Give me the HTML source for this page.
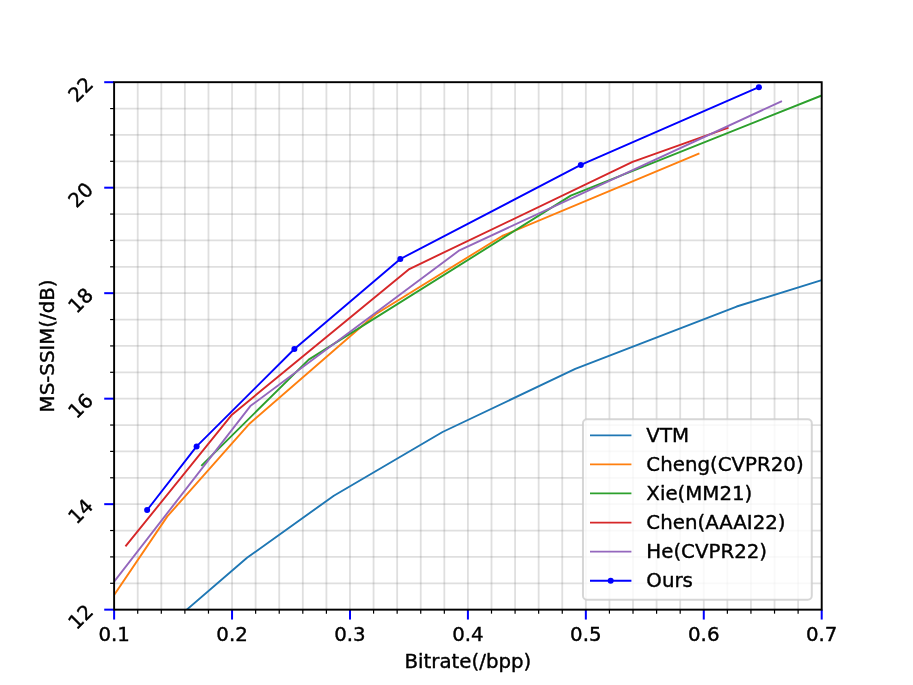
<!DOCTYPE html>
<html lang="en"><head><meta charset="utf-8"><title>MS-SSIM rate-distortion</title>
<style>html,body{margin:0;padding:0;background:#fff}svg{display:block}text{font-family:"DejaVu Sans","Liberation Sans",sans-serif;font-size:19.8px;fill:#000;stroke:#000;stroke-width:0.4px;stroke-linejoin:round}</style></head><body>
<svg width="913" height="685" viewBox="0 0 913 685">
<rect width="913" height="685" fill="#fff"/>
<defs><clipPath id="c"><rect x="114.12" y="82.2" width="707.58" height="527.45"/></clipPath></defs>
<g stroke="#808080" stroke-opacity="0.25" stroke-width="1.8" fill="none">
<path d="M114.12 609.65V82.2"/>
<path d="M137.71 609.65V82.2"/>
<path d="M161.3 609.65V82.2"/>
<path d="M184.88 609.65V82.2"/>
<path d="M208.47 609.65V82.2"/>
<path d="M232.05 609.65V82.2"/>
<path d="M255.64 609.65V82.2"/>
<path d="M279.23 609.65V82.2"/>
<path d="M302.81 609.65V82.2"/>
<path d="M326.4 609.65V82.2"/>
<path d="M349.98 609.65V82.2"/>
<path d="M373.57 609.65V82.2"/>
<path d="M397.15 609.65V82.2"/>
<path d="M420.74 609.65V82.2"/>
<path d="M444.33 609.65V82.2"/>
<path d="M467.91 609.65V82.2"/>
<path d="M491.5 609.65V82.2"/>
<path d="M515.08 609.65V82.2"/>
<path d="M538.67 609.65V82.2"/>
<path d="M562.26 609.65V82.2"/>
<path d="M585.84 609.65V82.2"/>
<path d="M609.43 609.65V82.2"/>
<path d="M633.01 609.65V82.2"/>
<path d="M656.6 609.65V82.2"/>
<path d="M680.19 609.65V82.2"/>
<path d="M703.77 609.65V82.2"/>
<path d="M727.36 609.65V82.2"/>
<path d="M750.94 609.65V82.2"/>
<path d="M774.53 609.65V82.2"/>
<path d="M798.11 609.65V82.2"/>
<path d="M821.7 609.65V82.2"/>
<path d="M114.12 609.65H821.7"/>
<path d="M114.12 583.28H821.7"/>
<path d="M114.12 556.9H821.7"/>
<path d="M114.12 530.53H821.7"/>
<path d="M114.12 504.16H821.7"/>
<path d="M114.12 477.79H821.7"/>
<path d="M114.12 451.41H821.7"/>
<path d="M114.12 425.04H821.7"/>
<path d="M114.12 398.67H821.7"/>
<path d="M114.12 372.3H821.7"/>
<path d="M114.12 345.93H821.7"/>
<path d="M114.12 319.55H821.7"/>
<path d="M114.12 293.18H821.7"/>
<path d="M114.12 266.81H821.7"/>
<path d="M114.12 240.44H821.7"/>
<path d="M114.12 214.06H821.7"/>
<path d="M114.12 187.69H821.7"/>
<path d="M114.12 161.32H821.7"/>
<path d="M114.12 134.95H821.7"/>
<path d="M114.12 108.57H821.7"/>
<path d="M114.12 82.2H821.7"/>
</g>
<g stroke="#000" stroke-width="1.2">
<path d="M137.71 609.65v4"/>
<path d="M161.3 609.65v4"/>
<path d="M184.88 609.65v4"/>
<path d="M208.47 609.65v4"/>
<path d="M255.64 609.65v4"/>
<path d="M279.23 609.65v4"/>
<path d="M302.81 609.65v4"/>
<path d="M326.4 609.65v4"/>
<path d="M373.57 609.65v4"/>
<path d="M397.15 609.65v4"/>
<path d="M420.74 609.65v4"/>
<path d="M444.33 609.65v4"/>
<path d="M491.5 609.65v4"/>
<path d="M515.08 609.65v4"/>
<path d="M538.67 609.65v4"/>
<path d="M562.26 609.65v4"/>
<path d="M609.43 609.65v4"/>
<path d="M633.01 609.65v4"/>
<path d="M656.6 609.65v4"/>
<path d="M680.19 609.65v4"/>
<path d="M727.36 609.65v4"/>
<path d="M750.94 609.65v4"/>
<path d="M774.53 609.65v4"/>
<path d="M798.11 609.65v4"/>
<path d="M114.12 583.28h-4"/>
<path d="M114.12 556.9h-4"/>
<path d="M114.12 530.53h-4"/>
<path d="M114.12 477.79h-4"/>
<path d="M114.12 451.41h-4"/>
<path d="M114.12 425.04h-4"/>
<path d="M114.12 372.3h-4"/>
<path d="M114.12 345.93h-4"/>
<path d="M114.12 319.55h-4"/>
<path d="M114.12 266.81h-4"/>
<path d="M114.12 240.44h-4"/>
<path d="M114.12 214.06h-4"/>
<path d="M114.12 161.32h-4"/>
<path d="M114.12 134.95h-4"/>
<path d="M114.12 108.57h-4"/>
</g>
<g stroke="#0000ff" stroke-width="2.0">
<path d="M114.12 609.65v9.9"/>
<path d="M232.05 609.65v9.9"/>
<path d="M349.98 609.65v9.9"/>
<path d="M467.91 609.65v9.9"/>
<path d="M585.84 609.65v9.9"/>
<path d="M703.77 609.65v9.9"/>
<path d="M821.7 609.65v9.9"/>
<path d="M114.12 609.65h-9.9"/>
<path d="M114.12 504.16h-9.9"/>
<path d="M114.12 398.67h-9.9"/>
<path d="M114.12 293.18h-9.9"/>
<path d="M114.12 187.69h-9.9"/>
<path d="M114.12 82.2h-9.9"/>
</g>
<g clip-path="url(#c)" fill="none" stroke-width="1.9" stroke-linejoin="round" stroke-linecap="butt">
<polyline stroke="#1f77b4" points="114.12,667.67 186.77,609.65 247.03,557.8 333.83,495.72 442.56,432 575.23,368.92 736.67,306.52 821.7,280.2 939.63,245.71"/>
<polyline stroke="#ff7f0e" points="102.33,614.92 114.12,595.09 167.31,516.4 249.74,423.46 375.57,314.28 502.23,236 699.41,153.41"/>
<polyline stroke="#2ca02c" points="201.27,465.81 308.71,359.64 570.75,195.6 821.7,95.49 939.63,55.83"/>
<polyline stroke="#d62728" points="125.45,546.41 231.94,414.7 409.3,269.02 632.54,161.95 728.54,127.61"/>
<polyline stroke="#9467bd" points="102.33,599.1 114.12,581.7 250.33,406.05 459.42,250.3 781.96,101.08"/>
<polyline stroke="#0000ff" points="147.15,510.01 196.6,446.4 294.4,348.98 400.3,259 580.81,164.9 758.9,87.21"/>
</g>
<g clip-path="url(#c)" fill="#0000ff">
<circle cx="147.15" cy="510.01" r="3.0"/>
<circle cx="196.6" cy="446.4" r="3.0"/>
<circle cx="294.4" cy="348.98" r="3.0"/>
<circle cx="400.3" cy="259" r="3.0"/>
<circle cx="580.81" cy="164.9" r="3.0"/>
<circle cx="758.9" cy="87.21" r="3.0"/>
</g>
<rect x="114.12" y="82.2" width="707.58" height="527.45" fill="none" stroke="#000" stroke-width="1.9" stroke-linejoin="miter"/>
<text x="114.12" y="641.16" text-anchor="middle">0.1</text>
<text x="232.05" y="641.16" text-anchor="middle">0.2</text>
<text x="349.98" y="641.16" text-anchor="middle">0.3</text>
<text x="467.91" y="641.16" text-anchor="middle">0.4</text>
<text x="585.84" y="641.16" text-anchor="middle">0.5</text>
<text x="703.77" y="641.16" text-anchor="middle">0.6</text>
<text x="821.7" y="641.16" text-anchor="middle">0.7</text>
<text x="467.91" y="668.27" text-anchor="middle">Bitrate(/bpp)</text>
<text transform="translate(76.54 630.6) rotate(-45)">12</text>
<text transform="translate(76.54 525.11) rotate(-45)">14</text>
<text transform="translate(76.54 419.62) rotate(-45)">16</text>
<text transform="translate(76.54 314.13) rotate(-45)">18</text>
<text transform="translate(76.54 208.64) rotate(-45)">20</text>
<text transform="translate(76.54 103.15) rotate(-45)">22</text>
<text transform="translate(53.85 345.92) rotate(-90)" text-anchor="middle">MS-SSIM(/dB)</text>
<rect x="582.97" y="419.24" width="228.82" height="180.5" rx="3.96" fill="#fff" fill-opacity="0.8" stroke="#ccc" stroke-opacity="0.8" stroke-width="1.98"/>
<path d="M590.9 435.29H630.52" stroke="#1f77b4" stroke-width="1.8" stroke-linecap="square" fill="none"/>
<text x="646.37" y="441.92">VTM</text>
<path d="M590.9 464.38H630.52" stroke="#ff7f0e" stroke-width="1.8" stroke-linecap="square" fill="none"/>
<text x="646.37" y="471.02">Cheng(CVPR20)</text>
<path d="M590.9 493.47H630.52" stroke="#2ca02c" stroke-width="1.8" stroke-linecap="square" fill="none"/>
<text x="646.37" y="500.11">Xie(MM21)</text>
<path d="M590.9 522.57H630.52" stroke="#d62728" stroke-width="1.8" stroke-linecap="square" fill="none"/>
<text x="646.37" y="529.2">Chen(AAAI22)</text>
<path d="M590.9 551.66H630.52" stroke="#9467bd" stroke-width="1.8" stroke-linecap="square" fill="none"/>
<text x="646.37" y="558.3">He(CVPR22)</text>
<path d="M590.9 580.75H630.52" stroke="#0000ff" stroke-width="1.8" stroke-linecap="square" fill="none"/>
<circle cx="610.71" cy="580.75" r="3.0" fill="#0000ff"/>
<text x="646.37" y="587.39">Ours</text>
</svg></body></html>
